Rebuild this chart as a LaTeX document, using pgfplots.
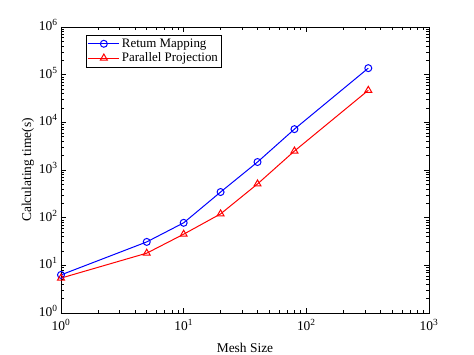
\documentclass[border=0pt]{standalone}
\usepackage{pgfplots}
\pgfplotsset{compat=1.18}
\usepackage{fontspec}
\setmainfont{Liberation Serif}
\begin{document}
\begin{tikzpicture}[x=1bp,y=1bp]
\useasboundingbox (-61bp,-42bp) rectangle (413bp,313bp);
\begin{axis}[
  at={(0,0)}, anchor=south west,
  scale only axis, width=368bp, height=286bp,
  xmode=log, ymode=log,
  xmin=1, xmax=1000, ymin=1, ymax=1e6,
  xtick={1,10,100,1000},
  xticklabels={10\textsuperscript{0},10\textsuperscript{1},10\textsuperscript{2},10\textsuperscript{3}},
  ytick={1,10,100,1000,10000,100000,1000000},
  yticklabels={10\textsuperscript{0},10\textsuperscript{1},10\textsuperscript{2},10\textsuperscript{3},10\textsuperscript{4},10\textsuperscript{5},10\textsuperscript{6}},
  tick align=inside,
  tick pos=both,
  major tick length=5bp, minor tick length=3bp,
  every tick/.style={black, line width=0.5pt},
  tick label style={font=\fontsize{13.5}{14}\selectfont},
  xticklabel style={yshift=-3bp},
  yticklabel style={yshift=2bp},
  xlabel={Mesh Size}, ylabel={Calculating time(s)},
  label style={font=\fontsize{13.5}{14}\selectfont},
  xlabel style={yshift=-5bp},
  ylabel style={yshift=-2bp},
  axis line style={black, line width=0.6pt},
  legend style={at={(0.068,0.972)}, anchor=north west, draw=black, line width=0.5pt,
    font=\fontsize{13}{14}\selectfont, row sep=0pt, inner sep=1.5pt},
  legend cell align=left,
  every axis legend/.append style={nodes={inner sep=2pt}},
]
\pgfplotsset{legend image code/.code={
  \draw[mark repeat=2,mark phase=2] plot coordinates {(0cm,0cm) (0.55cm,0cm) (1.1cm,0cm)};}}
\addplot[blue, line width=1pt, mark=o, mark size=3.5pt, mark options={line width=1pt}]
  coordinates {(1,6.3) (5,31) (10,78) (20,345) (40,1470) (80,7200) (320,137000)};
\addlegendentry{Retum Mapping}
\addplot[red, line width=1pt, mark=triangle, mark size=4pt, mark options={line width=1pt}]
  coordinates {(1,5.4) (5,18) (10,45) (20,120) (40,510) (80,2500) (320,47000)};
\addlegendentry{Parallel Projection}
\end{axis}
\end{tikzpicture}
\end{document}
